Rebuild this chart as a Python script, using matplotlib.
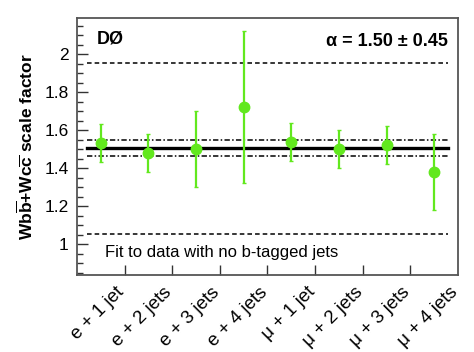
import matplotlib
matplotlib.use("Agg")
import matplotlib.pyplot as plt
import matplotlib.transforms as mtransforms
from matplotlib.ticker import MultipleLocator, FixedLocator
import numpy as np

categories = ["e + 1 jet", "e + 2 jets", "e + 3 jets", "e + 4 jets",
              "μ + 1 jet", "μ + 2 jets", "μ + 3 jets", "μ + 4 jets"]
values = [1.53, 1.48, 1.50, 1.72, 1.54, 1.50, 1.52, 1.38]
errors = [0.10, 0.10, 0.20, 0.40, 0.10, 0.10, 0.10, 0.20]
fit_value = 1.505
fit_stat = 0.042
fit_total = 0.45

plt.rcParams['font.family'] = ['Liberation Sans', 'DejaVu Sans']
plt.rcParams['mathtext.fontset'] = 'custom'
plt.rcParams['mathtext.rm'] = 'Liberation Sans'
plt.rcParams['mathtext.bf'] = 'Liberation Sans:bold'

fig = plt.figure(figsize=(4.74, 3.52), dpi=100)
ax = fig.add_axes([0.1624, 0.2188, 0.8038, 0.7301])

x = np.arange(len(categories)) + 0.5
green = '#62e81e'
ax.errorbar(x, values, yerr=errors, fmt='o', color=green, ms=7.5,
            elinewidth=1.6, capsize=1.5, capthick=1.0, zorder=5)

x0, x1 = 0.2, 7.8
ax.plot([x0, x1], [fit_value, fit_value], color='black', lw=2.4, zorder=3)
for s in (-1, 1):
    ax.plot([x0, x1], [fit_value + s * fit_stat] * 2, color='black', lw=1.1,
            dashes=(3.5, 1.5, 1, 1.5), zorder=3)
    ax.plot([x0, x1], [fit_value + s * fit_total] * 2, color='black', lw=1.1,
            dashes=(3, 2), zorder=3)

ax.set_xlim(0, 8)
ax.set_ylim(0.838, 2.19)

ax.yaxis.set_major_locator(FixedLocator([1.0, 1.2, 1.4, 1.6, 1.8, 2.0]))
ax.yaxis.set_minor_locator(MultipleLocator(0.05))
ax.set_yticklabels(['1', '1.2', '1.4', '1.6', '1.8', '2'])
ax.tick_params(axis='y', which='major', direction='in', length=8, width=1,
               labelsize=12.5, pad=6, color='#333333')
ax.tick_params(axis='y', which='minor', direction='in', length=4.5, width=1,
               color='#333333')

ax.set_xticks(x)
ax.set_xticklabels(categories, rotation=45, ha='right', va='top',
                   rotation_mode='anchor', fontsize=13.5)
ax.tick_params(axis='x', which='major', length=0, pad=2)
ax.xaxis.set_minor_locator(FixedLocator(np.arange(1, 8)))
ax.tick_params(axis='x', which='minor', direction='in', length=7, width=1,
               color='#333333')
offset = mtransforms.ScaledTranslation(0.15, -0.06, fig.dpi_scale_trans)
for lab in ax.get_xticklabels():
    lab.set_transform(lab.get_transform() + offset)

for sp in ax.spines.values():
    sp.set_color('#555555')
    sp.set_linewidth(1.3)

ax.set_ylabel(r'$\mathbf{Wb\overline{b}{+}Wc\overline{c}}$ scale factor',
              fontsize=12.5, fontweight='bold', labelpad=6)

ax.text(0.052, 0.92, 'DØ', transform=ax.transAxes, fontsize=13,
        fontweight='bold', ha='left', va='center')
ax.text(0.974, 0.91, 'α = 1.50 ± 0.45', transform=ax.transAxes, fontsize=13,
        fontweight='bold', ha='right', va='center')
ax.text(0.073, 0.087, 'Fit to data with no b-tagged jets', transform=ax.transAxes,
        fontsize=12, ha='left', va='center')

fig.savefig('out.png', dpi=100)
